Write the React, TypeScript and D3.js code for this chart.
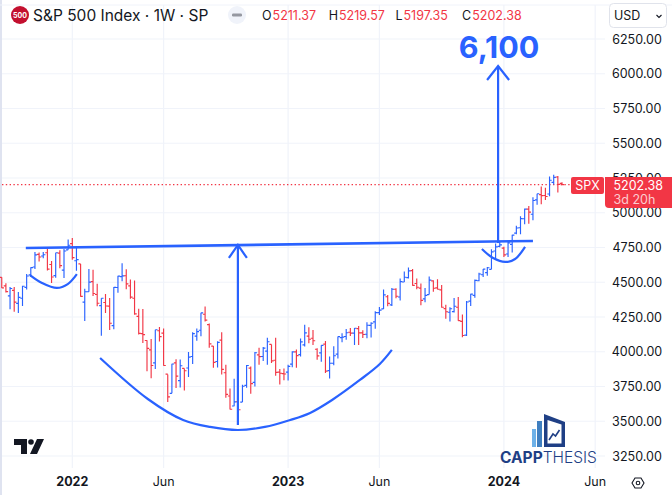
import { curveCatmullRom, line, range, scaleLinear, scaleUtc, utcWeek } from "d3";
import type { ReactElement } from "react";

// weekly bars, one per Monday from Sep 6 2021 on
const firstWeek = new Date(Date.UTC(2021, 8, 6));
const opens = [
  4535, 4474, 4402, 4442, 4348, 4385, 4463, 4553, 4610, 4701, 4689, 4712, 4628, 4548, 4710, 4587, 4733,
  4778, 4655, 4632, 4357, 4432, 4505, 4412, 4332, 4354, 4328, 4188, 4462, 4541, 4547, 4474, 4385, 4255,
  4130, 4081, 4013, 3920, 4151, 4134, 3839, 3701, 3920, 3792, 3880, 3883, 3966, 4112, 4155, 4270, 4195,
  4040, 3930, 4084, 3849, 3682, 3610, 3640, 3638, 3758, 3882, 3780, 3977, 3966, 4005, 4053, 3939, 3853, 3843,
  3853, 3911, 3999, 3979, 4050, 4112, 4097, 4018, 3992, 4055, 3864, 3917, 3983, 4102, 4110, 4140, 4134,
  4166, 4136, 4126, 4190, 4215, 4282, 4308, 4396, 4337, 4450, 4394, 4502, 4533, 4584, 4491, 4458, 4380,
  4411, 4510, 4459, 4445, 4310, 4284, 4289, 4320, 4218, 4120, 4364, 4406, 4511, 4554, 4569, 4593, 4725, 4758,
  4745, 4703, 4772, 4853, 4892, 4957, 5026, 4989, 5093, 5130, 5124, 5135, 5219, 5257, 5211.37,
];
const highs = [
  4536, 4492, 4465, 4466, 4429, 4475, 4560, 4608, 4718, 4714, 4718, 4743, 4652, 4713, 4731, 4740, 4808,
  4819, 4749, 4632, 4453, 4595, 4590, 4490, 4385, 4416, 4386, 4466, 4546, 4637, 4594, 4520, 4513, 4309,
  4307, 4082, 4091, 4158, 4178, 4168, 3837, 3913, 3946, 3945, 3880, 3999, 4140, 4167, 4280, 4325, 4203,
  4041, 4076, 4140, 3906, 3736, 3806, 3698, 3762, 3905, 3894, 3999, 4028, 4034, 4101, 4053, 4101, 3876, 3879,
  3907, 4003, 4016, 4095, 4195, 4176, 4156, 4025, 4046, 4078, 3965, 4039, 4110, 4133, 4164, 4170, 4170,
  4186, 4154, 4213, 4212, 4291, 4322, 4448, 4409, 4458, 4456, 4527, 4578, 4607, 4595, 4527, 4491, 4458,
  4542, 4514, 4522, 4481, 4338, 4320, 4386, 4393, 4268, 4366, 4418, 4520, 4568, 4595, 4609, 4738, 4778, 4793,
  4755, 4798, 4842, 4907, 4975, 5030, 5048, 5111, 5137, 5189, 5179, 5261, 5273, 5264, 5219.57,
];
const lows = [
  4458, 4427, 4306, 4288, 4278, 4329, 4447, 4537, 4595, 4650, 4672, 4585, 4495, 4532, 4600, 4531, 4733,
  4662, 4582, 4395, 4222, 4431, 4401, 4327, 4115, 4279, 4157, 4162, 4424, 4507, 4450, 4381, 4267, 4124,
  4063, 3859, 3810, 3876, 4074, 3900, 3639, 3701, 3740, 3743, 3722, 3818, 3911, 4080, 4112, 4218, 4029,
  3885, 3887, 3837, 3669, 3584, 3608, 3491, 3639, 3741, 3698, 3750, 3906, 3933, 3907, 3919, 3827, 3764, 3795,
  3794, 3888, 3885, 3965, 4037, 4061, 4048, 3943, 3928, 3848, 3808, 3902, 3951, 4069, 4086, 4114, 4049,
  4048, 4099, 4098, 4103, 4166, 4264, 4307, 4328, 4329, 4385, 4368, 4501, 4527, 4474, 4450, 4335, 4356,
  4411, 4432, 4448, 4317, 4238, 4217, 4283, 4223, 4104, 4114, 4329, 4388, 4507, 4537, 4546, 4593, 4666, 4751,
  4682, 4682, 4714, 4845, 4845, 4918, 4920, 4946, 5057, 5061, 5091, 5118, 5203, 5146, 5197.35,
];
const closes = [
  4459, 4433, 4455, 4357, 4391, 4471, 4545, 4605, 4697, 4682, 4698, 4594, 4538, 4712, 4620, 4725, 4766,
  4677, 4663, 4398, 4432, 4501, 4419, 4349, 4385, 4329, 4205, 4463, 4544, 4546, 4488, 4393, 4272, 4132,
  4123, 4024, 3901, 4158, 4109, 3901, 3675, 3912, 3825, 3899, 3863, 3961, 4130, 4145, 4280, 4228, 4057,
  3924, 4067, 3873, 3693, 3586, 3639, 3583, 3752, 3901, 3771, 3993, 3965, 4026, 4072, 3934, 3852, 3845, 3840,
  3895, 3999, 3972, 4071, 4136, 4090, 4079, 3970, 4046, 3861, 3917, 3971, 4109, 4105, 4137, 4134, 4169,
  4136, 4124, 4191, 4205, 4282, 4299, 4409, 4348, 4450, 4399, 4505, 4536, 4582, 4478, 4464, 4370, 4406,
  4515, 4457, 4450, 4320, 4288, 4309, 4327, 4224, 4117, 4358, 4415, 4514, 4559, 4594, 4604, 4719, 4754, 4769,
  4697, 4783, 4839, 4890, 4958, 5026, 5005, 5088, 5137, 5123, 5117, 5234, 5254, 5204, 5202.38,
];

const priceTicks = [6250, 6000, 5750, 5500, 5250, 5000, 4750, 4500, 4250, 4000, 3750, 3500, 3250];
const timeTicks = [
  { date: new Date(Date.UTC(2022, 0, 3)), label: "2022", bold: true },
  { date: new Date(Date.UTC(2022, 5, 6)), label: "Jun", bold: false },
  { date: new Date(Date.UTC(2023, 0, 2)), label: "2023", bold: true },
  { date: new Date(Date.UTC(2023, 5, 5)), label: "Jun", bold: false },
  { date: new Date(Date.UTC(2024, 0, 1)), label: "2024", bold: true },
  { date: new Date(Date.UTC(2024, 5, 3)), label: "Jun", bold: false },
];
const legendItems = [
  { key: "O", value: "5211.37" },
  { key: "H", value: "5219.57" },
  { key: "L", value: "5197.35" },
  { key: "C", value: "5202.38" },
];

// hand drawn annotations, as [weeks since Jan 3 2022, price]
const neckline: Array<[number, number]> = [[-11.2, 4746], [111, 4797]];
const bigCup: Array<[number, number]> = [
  [6.7, 3955], [18.2, 3660], [26.7, 3509], [33.2, 3459], [39.9, 3437], [46.4, 3459],
  [52.5, 3509], [57.3, 3560], [62.6, 3653], [69.3, 3797], [74.1, 3912], [77, 4013],
];
const leftCup: Array<[number, number]> = [[-10.2, 4552], [-7.3, 4495], [-3.7, 4459], [-1.1, 4487], [1.1, 4559]];
const rightCup: Array<[number, number]> = [[98.7, 4739], [101.4, 4674], [104.3, 4646], [106.7, 4667], [109.1, 4754]];
const arrowUpLeft: Array<[number, number]> = [[39.9, 3473], [39.9, 4768]];
const arrowUpRight: Array<[number, number]> = [[102.6, 4782], [102.6, 6056]];
const targetLabel = "6,100";

const BLUE = "#2962ff";
const RED = "#f23645";
const GRID = "#f0f3fa";
const INK = "#131722";
const FONT = "Inter, 'Noto Sans', sans-serif";
const WEEK_ZERO = 17;

const width = 672;
const height = 495;
const lastPrice = closes[closes.length - 1];

const weekDates = range(opens.length).map((i) => utcWeek.offset(firstWeek, i));

const x = scaleUtc()
  .domain([weekDates[0], weekDates[weekDates.length - 1]])
  .range([1.75, 562]);
const y = scaleLinear().domain([6250, 3250]).range([39, 456]);

const xWeek = (w: number): number => x(firstWeek.getTime() + (w + WEEK_ZERO) * 604_800_000);

const smooth = line<[number, number]>()
  .x((d) => xWeek(d[0]))
  .y((d) => y(d[1]))
  .curve(curveCatmullRom);

const Arrow = (props: Readonly<{ points: Array<[number, number]>; wing: number; drop: number }>): ReactElement => {
  const { points, wing, drop } = props;
  const ax = xWeek(points[0][0]);
  const tip = y(points[1][1]);

  return (
    <g stroke={BLUE} strokeWidth={2.2} fill="none">
      <path d={smooth(points) ?? ""} />
      <path d={`M${ax - wing},${tip + drop}L${ax},${tip}L${ax + wing},${tip + drop}`} />
    </g>
  );
};

export default function App(): ReactElement {
  return (
    <svg
      width={width}
      height={height}
      viewBox={`0 0 ${width} ${height}`}
      style={{ position: "absolute", left: 0, top: 0, background: "#fff", fontFamily: FONT }}
    >
      <style>{"body{margin:0}"}</style>
      <rect x={0} y={0} width={2} height={height} fill="#dfe3f0" />
      <line x1={0} x2={width} y1={5} y2={5} stroke={GRID} />

      {priceTicks.map((tick) => (
        <line key={`grid-${tick}`} x1={2} x2={605} y1={y(tick)} y2={y(tick)} stroke={GRID} strokeWidth={1.2} />
      ))}
      {timeTicks.map((tick) => (
        <line key={`v-${tick.date.getTime()}`} x1={x(tick.date)} x2={x(tick.date)} y1={5} y2={468} stroke={GRID} strokeWidth={1.2} />
      ))}

      <line x1={2} x2={571} y1={y(lastPrice)} y2={y(lastPrice)} stroke={RED} strokeWidth={1.2} strokeDasharray="1.4 2.4" />

      {weekDates.map((date, i) => {
        const bx = x(date);
        const color = closes[i] >= opens[i] ? BLUE : RED;

        return (
          <path
            key={date.getTime()}
            d={`M${bx},${y(highs[i])}V${y(lows[i])}M${bx - 2.2},${y(opens[i])}H${bx}M${bx},${y(closes[i])}H${bx + 2.2}`}
            fill="none"
            stroke={color}
            strokeWidth={1.15}
          />
        );
      })}

      <path d={smooth(neckline) ?? ""} fill="none" stroke={BLUE} strokeWidth={2.6} />
      <path d={smooth(bigCup) ?? ""} fill="none" stroke={BLUE} strokeWidth={2.2} />
      <path d={smooth(leftCup) ?? ""} fill="none" stroke={BLUE} strokeWidth={2.2} />
      <path d={smooth(rightCup) ?? ""} fill="none" stroke={BLUE} strokeWidth={2.2} />
      <Arrow points={arrowUpLeft} wing={9} drop={13} />
      <Arrow points={arrowUpRight} wing={11} drop={14} />
      <text x={xWeek(arrowUpRight[0][0]) + 1} y={58} textAnchor="middle" fontSize={30.5} fontWeight={700} fill={BLUE}>
        {targetLabel}
      </text>

      {/* legend */}
      <circle cx={20} cy={15} r={9} fill="#c3102f" />
      <text x={20} y={17.5} textAnchor="middle" fontSize={7} fontWeight={700} fill="#fff">500</text>
      <text x={33} y={20.5} fontSize={15.5} fill={INK}>S&amp;P 500 Index · 1W · SP</text>
      <circle cx={237} cy={15} r={9} fill="#f0f3fa" />
      <rect x={232} y={13.5} width={10} height={3} rx={1.2} fill="#9598a1" />
      {legendItems.map((item, i) => (
        <text key={item.key} x={262 + i * 66.7} y={19.5} fontSize={12.5} fill={INK}>
          {item.key}
          <tspan fill={RED} dx={1}>{item.value}</tspan>
        </text>
      ))}

      {/* price axis */}
      {priceTicks.map((tick) => (
        <text key={`p-${tick}`} x={637} y={y(tick) + 4.5} textAnchor="middle" fontSize={12.5} fill={INK}>
          {tick.toFixed(2)}
        </text>
      ))}
      <rect x={609.5} y={3.5} width={57} height={24} rx={4} fill="#fff" stroke="#e0e3eb" />
      <text x={614} y={20} fontSize={12.5} fill={INK}>USD</text>
      <path d="M656.5,15l2.5,2.5l2.5,-2.5" fill="none" stroke={INK} strokeWidth={1.1} />

      {/* last price tags */}
      <rect x={571} y={177} width={33} height={17} rx={2} fill={RED} />
      <text x={587.5} y={190} textAnchor="middle" fontSize={12.5} fill="#fff">SPX</text>
      <path d="M605,177H672V208H609a4,4 0 0 1 -4,-4Z" fill={RED} />
      <text x={613.5} y={190} fontSize={12.5} fill="#fff">{lastPrice.toFixed(2)}</text>
      <text x={613.5} y={204} fontSize={12.5} fill="#fff" fillOpacity={0.75}>3d 20h</text>

      {/* time axis */}
      {timeTicks.map((tick) => (
        <text
          key={`t-${tick.date.getTime()}`}
          x={x(tick.date)}
          y={486}
          textAnchor="middle"
          fontSize={12.5}
          fontWeight={tick.bold ? 700 : 400}
          fill={INK}
        >
          {tick.label}
        </text>
      ))}
      <path d="M632,483l3,-5h6l3,5l-3,5h-6Z" fill="none" stroke={INK} strokeWidth={1.1} />
      <circle cx={638} cy={483} r={1.8} fill="none" stroke={INK} strokeWidth={1.1} />

      {/* tradingview mark */}
      <path d="M14,439H27V454H21V445H14Z M37,439H44L37,454H30Z" fill={INK} />
      <circle cx={31} cy={442} r={2.8} fill={INK} />

      {/* capp thesis logo */}
      <rect x={532} y={429} width={4} height={18} fill="#6db1e8" />
      <rect x={537} y={421} width={5} height={26} fill="#3f7fc0" />
      <path d="M544,414L565,422V447H544Z" fill="#1f3f85" />
      <path d="M547.5,420L561.5,424.5V443.5H547.5Z" fill="#fff" />
      <path d="M549,440l4,-6l2.5,2l4,-6" fill="none" stroke="#1f3f85" strokeWidth={1.6} />
      <text x={500} y={463} fontSize={15.5} fill="#1f3f85">
        <tspan fontWeight={700}>CAPP</tspan>
        <tspan fontWeight={300}>THESIS</tspan>
      </text>
    </svg>
  );
}
